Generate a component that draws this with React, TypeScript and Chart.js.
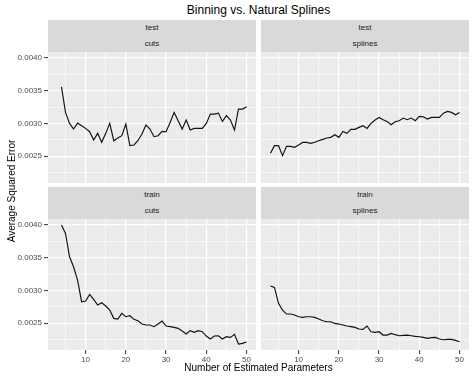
import React, { useEffect, useRef } from "react";
import { Chart, registerables } from "chart.js";

Chart.register(...registerables);

const FONT = "'Liberation Sans', Arial, Helvetica, sans-serif";

// Number of estimated parameters
const cutsParams = [4, 5, 6, 7, 8, 9, 10, 11, 12, 13, 14, 15, 16, 17, 18, 19, 20, 21, 22, 23, 24, 25, 26, 27, 28, 29, 30, 31, 32, 33, 34, 35, 36, 37, 38, 39, 40, 41, 42, 43, 44, 45, 46, 47, 48, 49, 50];
const splinesParams = [3, 4, 5, 6, 7, 8, 9, 10, 11, 12, 13, 14, 15, 16, 17, 18, 19, 20, 21, 22, 23, 24, 25, 26, 27, 28, 29, 30, 31, 32, 33, 34, 35, 36, 37, 38, 39, 40, 41, 42, 43, 44, 45, 46, 47, 48, 49, 50];

// Average squared error
const testCuts = [0.003558, 0.003168, 0.0030, 0.002914, 0.003005, 0.002964, 0.002924, 0.002873, 0.002746, 0.002848, 0.002711, 0.002848, 0.0030, 0.002736, 0.002777, 0.002812, 0.00299, 0.00266, 0.00267, 0.002736, 0.002838, 0.002975, 0.002914, 0.002797, 0.002812, 0.002878, 0.002873, 0.003015, 0.003168, 0.003041, 0.002914, 0.003051, 0.002898, 0.002924, 0.002924, 0.002924, 0.0030, 0.003142, 0.003142, 0.003157, 0.00303, 0.003117, 0.003051, 0.002898, 0.003218, 0.003218, 0.003254];
const testSplines = [0.002543, 0.00266, 0.00266, 0.002508, 0.00265, 0.00265, 0.002635, 0.00267, 0.002711, 0.002711, 0.002695, 0.002711, 0.002736, 0.002756, 0.002777, 0.002787, 0.002827, 0.002787, 0.002878, 0.002848, 0.002909, 0.002909, 0.002939, 0.002964, 0.002924, 0.0030, 0.003051, 0.003091, 0.003056, 0.00303, 0.00298, 0.003025, 0.003041, 0.003081, 0.003056, 0.003081, 0.003041, 0.003107, 0.003102, 0.003066, 0.003091, 0.003091, 0.003091, 0.003157, 0.003183, 0.003168, 0.003132, 0.003168];
const trainCuts = [0.003997, 0.00387, 0.003514, 0.003361, 0.003158, 0.002827, 0.002837, 0.002939, 0.002863, 0.002776, 0.002812, 0.002761, 0.0027, 0.002573, 0.002563, 0.002649, 0.002598, 0.002613, 0.002558, 0.002537, 0.002486, 0.002471, 0.002471, 0.002446, 0.002486, 0.002532, 0.002456, 0.002446, 0.002435, 0.00242, 0.00238, 0.002334, 0.002385, 0.002359, 0.002385, 0.002369, 0.002303, 0.002257, 0.002303, 0.002308, 0.002257, 0.002293, 0.002283, 0.002329, 0.002181, 0.002191, 0.002212];
const trainSplines = [0.003066, 0.003046, 0.002802, 0.0027, 0.002639, 0.002639, 0.002624, 0.002598, 0.002588, 0.002598, 0.002598, 0.002588, 0.002563, 0.002537, 0.002522, 0.002522, 0.002496, 0.002486, 0.002471, 0.002456, 0.002446, 0.002435, 0.00241, 0.002405, 0.002456, 0.002369, 0.002359, 0.002369, 0.002318, 0.002318, 0.002344, 0.002324, 0.002308, 0.002313, 0.002318, 0.002308, 0.002298, 0.002293, 0.002283, 0.002268, 0.002278, 0.002283, 0.002257, 0.002247, 0.002252, 0.002252, 0.002237, 0.002217];

// Tick values (major ones get labels)
const xTickValues = [5, 10, 15, 20, 25, 30, 35, 40, 45, 50];
const xMajorTicks = [10, 20, 30, 40, 50];
const yTickValues = [0.00225, 0.0025, 0.00275, 0.003, 0.00325, 0.0035, 0.00375, 0.004];
const yMajorTicks = [0.0025, 0.003, 0.0035, 0.004];

const X_MIN = 0.65;
const X_MAX = 52.35;
const Y_MIN = 0.00209;
const Y_MAX = 0.00409;

const bgPlugin = {
  id: "panelBg",
  beforeDraw(chart: any) {
    const { ctx, chartArea } = chart;
    ctx.save();
    ctx.fillStyle = "#EBEBEB";
    ctx.fillRect(chartArea.left, chartArea.top, chartArea.right - chartArea.left, chartArea.bottom - chartArea.top);
    ctx.restore();
  },
};

type PanelProps = {
  left: number;
  top: number;
  width: number;
  height: number;
  yAxisWidth: number;
  xAxisHeight: number;
  xs: number[];
  ys: number[];
  showY: boolean;
  showX: boolean;
};

function Panel(p: PanelProps) {
  const ref = useRef<HTMLCanvasElement>(null);
  useEffect(() => {
    const chart = new Chart(ref.current as HTMLCanvasElement, {
      type: "line",
      data: {
        datasets: [
          {
            data: p.xs.map((x, i) => ({ x, y: p.ys[i] })),
            borderColor: "#111111",
            borderWidth: 1.15,
            pointRadius: 0,
            tension: 0,
            fill: false,
          },
        ],
      },
      options: {
        animation: false,
        responsive: false,
        maintainAspectRatio: false,
        layout: { padding: 0 },
        plugins: {
          legend: { display: false },
          tooltip: { enabled: false },
          title: { display: false },
        },
        scales: {
          x: {
            type: "linear",
            min: X_MIN,
            max: X_MAX,
            afterBuildTicks: (s: any) => {
              s.ticks = xTickValues.map((v) => ({ value: v }));
            },
            afterFit: (s: any) => {
              s.height = p.xAxisHeight;
              s.paddingLeft = 0;
              s.paddingRight = 0;
            },
            border: { display: false },
            grid: {
              color: "#FFFFFF",
              lineWidth: (c: any) => (c.tick && xMajorTicks.includes(c.tick.value) ? 1.2 : 0.6),
              drawTicks: p.showX,
              tickLength: 4,
              tickWidth: 1,
              tickColor: (c: any) => (c.tick && xMajorTicks.includes(c.tick.value) ? "#333333" : "rgba(0,0,0,0)"),
            },
            ticks: {
              display: p.showX,
              autoSkip: false,
              maxRotation: 0,
              padding: 1,
              color: "#4D4D4D",
              font: { size: 8, family: FONT },
              callback: (v: any) => (xMajorTicks.includes(Number(v)) ? String(v) : ""),
            },
          },
          y: {
            type: "linear",
            min: Y_MIN,
            max: Y_MAX,
            afterBuildTicks: (s: any) => {
              s.ticks = yTickValues.map((v) => ({ value: v }));
            },
            afterFit: (s: any) => {
              s.width = p.yAxisWidth;
              s.paddingTop = 0;
              s.paddingBottom = 0;
            },
            border: { display: false },
            grid: {
              color: "#FFFFFF",
              lineWidth: (c: any) => (c.tick && yMajorTicks.includes(c.tick.value) ? 1.2 : 0.6),
              drawTicks: p.showY,
              tickLength: 4,
              tickWidth: 1,
              tickColor: (c: any) => (c.tick && yMajorTicks.includes(c.tick.value) ? "#333333" : "rgba(0,0,0,0)"),
            },
            ticks: {
              display: p.showY,
              autoSkip: false,
              padding: 2,
              color: "#4D4D4D",
              font: { size: 8, family: FONT },
              callback: (v: any) => (yMajorTicks.includes(Number(v)) ? Number(v).toFixed(4) : ""),
            },
          },
        },
      },
      plugins: [bgPlugin],
    } as any);
    return () => chart.destroy();
  }, []);
  return (
    <canvas
      ref={ref}
      width={p.width}
      height={p.height}
      style={{ position: "absolute", left: p.left, top: p.top, width: p.width, height: p.height }}
    />
  );
}

function Strip({ left, top, width, height, text }: { left: number; top: number; width: number; height: number; text: string }) {
  return (
    <div
      style={{
        position: "absolute",
        left,
        top,
        width,
        height,
        background: "#D9D9D9",
        color: "#1A1A1A",
        fontFamily: FONT,
        fontSize: 8,
        display: "flex",
        alignItems: "center",
        justifyContent: "center",
        lineHeight: "8px",
      }}
    >
      {text}
    </div>
  );
}

export default function App() {
  const LX = 48;
  const RX = 261;
  const PW = 208;
  const PH = 131;
  const TOP_P = 52;
  const BOT_P = 219;
  return (
    <div style={{ position: "absolute", left: 0, top: 0, width: 474, height: 379, background: "#FFFFFF", overflow: "hidden" }}>
      <div
        style={{
          position: "absolute",
          left: LX,
          width: RX + PW - LX,
          top: 3,
          textAlign: "center",
          fontFamily: FONT,
          fontSize: 12,
          lineHeight: "14px",
          color: "#000",
        }}
      >
        Binning vs. Natural Splines
      </div>

      <Strip left={LX} top={20} width={PW} height={16} text="test" />
      <Strip left={LX} top={36} width={PW} height={16} text="cuts" />
      <Strip left={RX} top={20} width={PW} height={16} text="test" />
      <Strip left={RX} top={36} width={PW} height={16} text="splines" />
      <Strip left={LX} top={187} width={PW} height={16} text="train" />
      <Strip left={LX} top={203} width={PW} height={16} text="cuts" />
      <Strip left={RX} top={187} width={PW} height={16} text="train" />
      <Strip left={RX} top={203} width={PW} height={16} text="splines" />

      <Panel left={0} top={TOP_P} width={LX + PW} height={PH} yAxisWidth={LX} xAxisHeight={0} xs={cutsParams} ys={testCuts} showY={true} showX={false} />
      <Panel left={RX} top={TOP_P} width={PW} height={PH} yAxisWidth={0} xAxisHeight={0} xs={splinesParams} ys={testSplines} showY={false} showX={false} />
      <Panel left={0} top={BOT_P} width={LX + PW} height={PH + 30} yAxisWidth={LX} xAxisHeight={30} xs={cutsParams} ys={trainCuts} showY={true} showX={true} />
      <Panel left={RX} top={BOT_P} width={PW} height={PH + 30} yAxisWidth={0} xAxisHeight={30} xs={splinesParams} ys={trainSplines} showY={false} showX={true} />

      <div
        style={{
          position: "absolute",
          left: LX,
          width: RX + PW - LX,
          top: 362,
          textAlign: "center",
          fontFamily: FONT,
          fontSize: 10,
          lineHeight: "12px",
          color: "#000",
        }}
      >
        Number of Estimated Parameters
      </div>
      <div
        style={{
          position: "absolute",
          left: 11.5 - 60,
          top: 191 - 6,
          width: 120,
          height: 12,
          transform: "rotate(-90deg)",
          transformOrigin: "50% 50%",
          textAlign: "center",
          fontFamily: FONT,
          fontSize: 10,
          lineHeight: "12px",
          color: "#000",
          whiteSpace: "nowrap",
        }}
      >
        Average Squared Error
      </div>
    </div>
  );
}
